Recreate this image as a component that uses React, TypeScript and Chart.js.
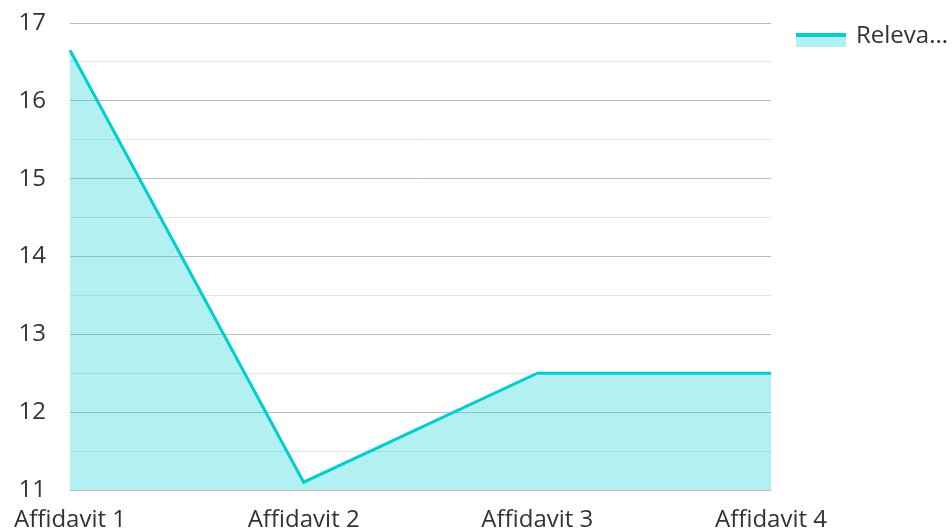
import React, { useEffect, useRef } from "react";
import { Chart, registerables } from "chart.js";

Chart.register(...registerables);

const categories = ["Affidavit 1", "Affidavit 2", "Affidavit 3", "Affidavit 4"];
const seriesLabel = "Releva...";
const seriesValues = [16.65, 11.1, 12.5, 12.5];
const yMin = 11;
const yMax = 17;

const LINE = "#00CED1";
const FILL = "rgba(0, 206, 209, 0.3)";
const FONT = "'Open Sans', sans-serif";

const legendPlugin = {
  id: "customLegend",
  afterDraw(chart: any) {
    const ctx = chart.ctx;
    const x = 796;
    ctx.save();
    ctx.fillStyle = FILL;
    ctx.fillRect(x, 37, 50, 10);
    ctx.fillStyle = LINE;
    ctx.fillRect(x, 33, 50, 4);
    ctx.fillStyle = "#333333";
    ctx.font = `24px ${FONT}`;
    ctx.textBaseline = "middle";
    ctx.textAlign = "left";
    ctx.fillText(seriesLabel, 856, 36);
    ctx.restore();
  },
};

export default function App() {
  const ref = useRef<HTMLCanvasElement>(null);
  useEffect(() => {
    if (!ref.current) return;
    const chart = new Chart(ref.current, {
      type: "line",
      data: {
        labels: categories,
        datasets: [
          {
            label: seriesLabel,
            data: seriesValues,
            borderColor: LINE,
            backgroundColor: FILL,
            borderWidth: 3,
            fill: "start",
            tension: 0,
            pointRadius: 0,
            pointHoverRadius: 0,
          },
        ],
      },
      options: {
        animation: false,
        responsive: false,
        layout: { padding: { top: 23, right: 181, left: 0, bottom: 0 } },
        plugins: { legend: { display: false }, tooltip: { enabled: false } },
        scales: {
          x: {
            grid: { display: false },
            border: { display: false },
            ticks: {
              color: "#333333",
              font: { family: FONT, size: 24 },
              padding: 8,
              maxRotation: 0,
              autoSkip: false,
            },
            afterFit(scale: any) {
              scale.height = 42;
            },
          },
          y: {
            min: yMin,
            max: yMax,
            border: { display: false },
            grid: {
              drawTicks: false,
              lineWidth: 1,
              color: (c: any) =>
                c.tick && Number.isInteger(c.tick.value) ? "#bdbdbd" : "#e4e4e4",
            },
            ticks: {
              stepSize: 0.5,
              color: "#333333",
              font: { family: FONT, size: 24 },
              padding: 24,
              callback: (v: any) => (Number.isInteger(Number(v)) ? String(v) : ""),
            },
            afterFit(scale: any) {
              scale.width = 70;
              scale.paddingTop = 0;
              scale.paddingBottom = 0;
            },
          },
        },
      },
      plugins: [legendPlugin],
    });
    return () => chart.destroy();
  }, []);
  return (
    <div style={{ position: "absolute", left: 0, top: 0, width: 952, height: 532 }}>
      <canvas ref={ref} width={952} height={532} />
    </div>
  );
}
